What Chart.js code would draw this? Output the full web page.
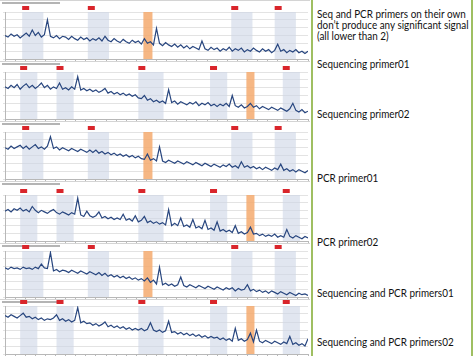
<!DOCTYPE html>
<html>
<head>
<meta charset="utf-8">
<script src="https://cdn.jsdelivr.net/npm/chart.js@4"></script>
<style>
  body { margin: 0; background: #fff; width: 474px; height: 356px; overflow: hidden; position: relative; }
  .panel { position: absolute; left: 0; width: 310px; border-top: 1px solid #d4d4d4; box-sizing: border-box; }
  .panel canvas { display: block; }
  #notes { position: absolute; left: 311px; top: -2px; width: 162px; height: 360px; box-sizing: border-box;
           border: 2px solid #9fbf62; font-family: Lato, "Open Sans", sans-serif; font-size: 11.5px; color: #111; }
  #notes div { position: absolute; left: 4px; white-space: nowrap; line-height: 11px;
               transform: scaleX(0.86); transform-origin: left center; }
</style>
</head>
<body>
<div id="notes">
  <div style="top:8px">Seq and PCR primers on their own</div>
  <div style="top:19px">don’t produce any significant signal</div>
  <div style="top:30px">(all lower than 2)</div>
  <div style="top:58px">Sequencing primer01</div>
  <div style="top:108px">Sequencing primer02</div>
  <div style="top:172px">PCR primer01</div>
  <div style="top:236px">PCR primer02</div>
  <div style="top:287px">Sequencing and PCR primers01</div>
  <div style="top:336px">Sequencing and PCR primers02</div>
</div>
<script>
// one sample every STEP x-units, x runs 0..300
const STEP = 3;

const seqPrimer01 = [3.0,2.8,3.2,2.9,3.1,2.7,3.0,3.3,2.9,3.7,3.0,3.4,2.8,3.1,5.0,2.9,2.7,3.0,2.6,2.9,
  2.8,2.5,2.9,2.6,2.4,2.8,2.5,2.7,2.3,2.6,2.4,2.7,2.3,2.9,2.4,2.2,2.6,2.3,2.1,2.5,
  2.2,2.0,2.4,2.1,2.3,1.9,2.6,2.0,2.2,1.8,3.9,2.0,1.7,2.1,1.8,1.6,1.9,1.5,1.8,1.4,
  1.7,1.3,1.6,1.4,1.2,2.3,1.3,1.1,1.5,1.2,1.4,1.0,1.3,1.1,1.5,1.0,1.3,1.1,1.4,0.9,
  1.2,1.0,1.4,1.1,0.9,1.3,1.0,1.2,0.8,1.1,1.9,1.0,1.2,0.8,1.1,0.9,1.2,0.8,1.0,0.7,1.0];

const seqPrimer02 = [4.1,3.9,4.3,4.0,4.4,3.8,4.2,4.5,4.0,4.3,3.9,4.2,4.6,4.0,4.3,3.8,4.1,3.9,4.6,3.8,
  4.0,3.7,4.1,3.8,5.4,3.7,3.9,3.6,3.8,3.5,3.7,3.4,3.6,3.9,3.3,3.5,3.2,3.4,3.1,3.3,
  3.0,3.2,2.9,3.1,2.7,2.6,3.0,2.4,2.6,2.2,2.4,2.1,2.3,2.0,3.75,2.1,2.3,1.9,2.2,2.0,
  1.8,2.1,1.9,2.2,1.7,2.0,1.8,2.1,1.7,1.9,1.6,1.9,1.7,2.0,1.6,3.0,1.7,1.5,1.8,1.4,
  1.6,2.0,1.5,1.7,1.3,1.6,1.4,1.2,1.5,1.3,1.1,1.4,1.2,1.0,1.3,2.0,1.1,0.9,1.2,0.8,1.0];

const pcrPrimer01 = [4.0,3.8,4.2,3.9,4.1,4.3,3.9,4.2,3.8,4.1,4.4,3.9,4.1,3.8,4.2,5.4,3.9,4.1,3.7,4.0,
  3.8,3.6,3.9,3.7,3.5,3.8,3.6,3.4,3.7,3.4,3.7,3.3,3.5,3.2,3.4,3.1,3.3,3.0,3.2,2.9,
  3.1,2.8,3.0,2.7,2.9,2.6,2.5,3.2,2.4,2.6,2.3,4.1,2.3,2.1,2.4,2.2,2.0,2.3,2.1,1.9,
  2.2,2.0,1.8,2.1,1.9,1.7,2.0,1.8,1.6,1.9,1.7,1.5,1.8,1.6,1.9,1.5,1.7,1.4,2.2,1.5,
  1.7,1.4,1.6,1.3,1.5,1.2,1.5,1.3,1.1,1.4,1.2,1.9,1.1,1.3,1.0,1.2,0.9,1.2,1.0,0.8,1.1];

const pcrPrimer02 = [3.9,4.1,3.8,4.2,4.0,4.3,3.9,4.1,3.8,4.5,4.0,3.7,4.0,3.8,3.6,3.9,4.1,3.7,3.5,3.8,
  3.6,3.4,3.7,3.5,5.6,3.4,3.2,3.9,3.3,3.1,3.3,3.8,3.0,3.2,2.9,3.1,2.8,3.0,2.8,3.5,
  2.7,2.9,2.6,3.3,2.5,2.7,3.2,2.4,2.6,2.3,2.5,2.2,2.4,2.1,4.1,2.0,2.3,2.0,3.0,1.9,
  2.1,1.8,2.8,1.7,1.9,1.6,2.7,1.5,1.7,1.4,2.5,1.3,1.5,1.2,1.4,1.1,2.0,1.0,1.2,0.9,
  1.1,1.8,0.9,1.0,0.7,0.9,0.6,0.8,0.6,0.9,0.5,0.7,0.5,1.5,0.6,0.4,0.7,0.5,0.3,0.6,0.4];

const seqPcr01 = [3.8,3.6,3.9,3.7,3.8,3.6,3.9,3.7,3.8,3.6,3.9,3.7,4.3,3.8,3.7,5.8,3.4,3.6,3.3,3.5,
  3.4,3.2,3.5,3.3,3.1,3.4,3.2,3.0,3.3,3.1,2.9,3.2,2.8,3.1,2.7,2.9,2.6,2.8,2.5,2.7,
  2.4,2.6,2.3,2.5,2.2,2.4,2.1,2.5,1.9,2.2,1.7,3.9,1.6,1.8,1.5,1.7,1.4,1.6,2.6,1.5,
  1.3,1.6,1.4,1.2,1.5,1.3,1.1,1.4,1.2,1.0,1.3,1.1,0.9,1.2,1.0,1.2,0.8,1.1,0.9,1.0,
  1.6,0.8,1.0,0.7,0.9,0.6,0.8,0.5,0.8,0.6,0.4,0.7,0.5,0.3,0.6,0.4,0.2,0.5,0.3,0.4,0.2];

const seqPcr02 = [4.8,4.6,4.9,4.7,4.5,4.8,5.1,4.6,4.7,4.4,4.6,4.3,4.5,4.2,4.4,4.3,4.5,4.9,4.2,4.4,
  4.1,4.3,4.0,4.2,5.8,3.9,4.1,3.8,3.9,3.6,3.8,3.5,3.7,4.0,3.4,3.6,3.3,3.5,3.2,3.4,
  3.1,3.3,3.0,3.2,3.0,3.2,2.9,3.1,3.9,3.0,2.8,3.0,2.7,2.9,4.1,2.7,2.8,2.5,2.7,2.4,
  2.6,2.3,2.5,2.2,2.4,2.1,2.3,2.0,2.2,2.0,2.1,1.8,2.0,1.7,1.9,1.6,3.2,1.7,1.9,1.6,
  1.8,2.6,1.5,3.0,1.6,1.4,1.7,1.5,1.3,1.6,1.4,1.2,1.5,1.3,2.2,1.2,1.4,1.1,1.3,1.0,1.9];

// primer regions (x-units) marked on each run; two layouts alternate
const regionsA = [[17, 38], [82, 103], [224, 245], [267, 288]];
const probeA = [137, 146];
const regionsB = [[15, 32], [51, 68], [132, 157], [203, 220], [275, 292]];
const probeB = [239, 247];

const runs = [
  { values: seqPrimer01, regions: regionsA, probe: probeA, top: 0,   h: 61, padTop: 11 },
  { values: seqPrimer02, regions: regionsB, probe: probeB, top: 61,  h: 60, padTop: 10 },
  { values: pcrPrimer01, regions: regionsA, probe: probeA, top: 121, h: 60, padTop: 10 },
  { values: pcrPrimer02, regions: regionsB, probe: probeB, top: 181, h: 62, padTop: 13 },
  { values: seqPcr01,    regions: regionsA, probe: probeA, top: 243, h: 56, padTop: 7 },
  { values: seqPcr02,    regions: regionsB, probe: probeB, top: 299, h: 57, padTop: 6 }
];

const regionsPlugin = {
  id: 'regions',
  beforeDatasetsDraw(chart, args, opts) {
    const ctx = chart.ctx;
    const area = chart.chartArea;
    const x = chart.scales.x;
    ctx.save();
    // little header strip like the software's title line
    ctx.fillStyle = '#b4b4b4';
    ctx.fillRect(2, 1, 58, 2);
    opts.regions.forEach(function(r) {
      const a = x.getPixelForValue(r[0]);
      const b = x.getPixelForValue(r[1]);
      ctx.fillStyle = 'rgba(205,213,230,0.6)';
      ctx.fillRect(a, area.top, b - a, area.bottom - area.top);
      ctx.fillStyle = '#d9252b';
      ctx.fillRect(a, area.top - 6, 7, 4);
    });
    const pa = x.getPixelForValue(opts.probe[0]);
    const pb = x.getPixelForValue(opts.probe[1]);
    ctx.fillStyle = 'rgba(245,170,110,0.85)';
    ctx.fillRect(pa, area.top, pb - pa, area.bottom - area.top);
    ctx.restore();
  }
};

runs.forEach(function(run) {
  const div = document.createElement('div');
  div.className = 'panel';
  div.style.top = run.top + 'px';
  div.style.height = run.h + 'px';
  const canvas = document.createElement('canvas');
  canvas.width = 310;
  canvas.height = run.h - 1;
  div.appendChild(canvas);
  document.body.appendChild(div);

  new Chart(canvas, {
    type: 'line',
    data: {
      datasets: [{
        data: run.values.map(function(v, i) { return { x: i * STEP, y: v }; }),
        borderColor: '#28467f',
        borderWidth: 1.2,
        pointRadius: 0,
        tension: 0
      }]
    },
    options: {
      responsive: false,
      animation: false,
      devicePixelRatio: 1,
      layout: { padding: { top: run.padTop, left: 3, right: 2, bottom: 0 } },
      plugins: {
        legend: { display: false },
        tooltip: { enabled: false },
        regions: { regions: run.regions, probe: run.probe }
      },
      scales: {
        x: {
          type: 'linear', min: 0, max: 300,
          ticks: { display: false, stepSize: 10 },
          grid: { drawOnChartArea: false, tickLength: 2, color: '#b8b8b8' },
          border: { color: '#b8b8b8' }
        },
        y: {
          min: 0, max: 6,
          ticks: { display: false, stepSize: 1 },
          grid: { color: '#e3e3e3', tickLength: 2 },
          border: { color: '#b8b8b8' }
        }
      }
    },
    plugins: [regionsPlugin]
  });
});
</script>
</body>
</html>
